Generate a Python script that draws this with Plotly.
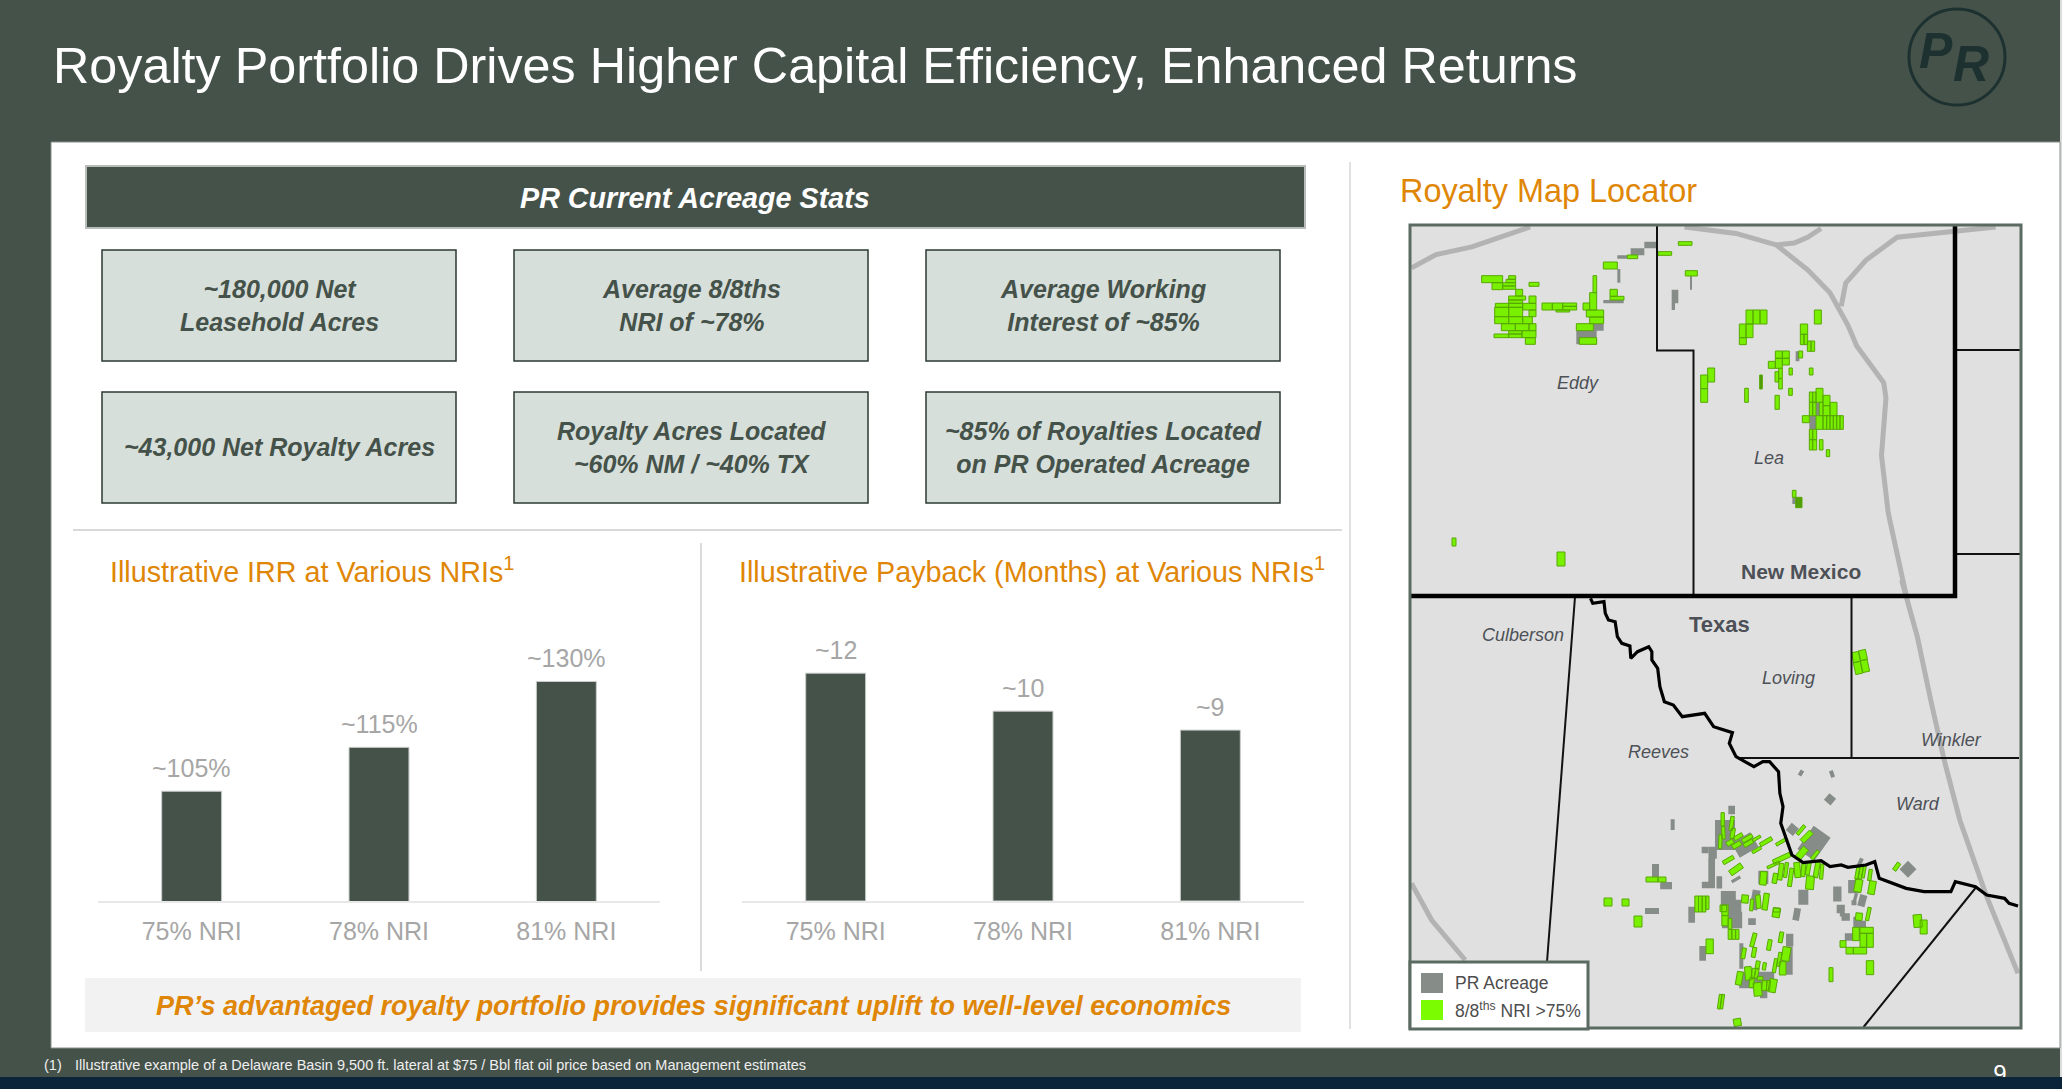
"""Royalty portfolio slide: stat boxes, two bar charts and the acreage map."""

from math import cos, radians, sin

import plotly.graph_objects as go

W, H = 2062, 1089
FONT = "Liberation Sans"
DARK = "#45524a"
ORANGE = "#e08606"
LABEL_GREY = "#a6a6a6"
GREY_FILL = "#868c88"
GREEN_FILL = "#78f000"
GREEN_LINE = "#58a804"

TITLE = "Royalty Portfolio Drives Higher Capital Efficiency, Enhanced Returns"
stats = [
    "~180,000 Net<br>Leasehold Acres",
    "Average 8/8ths<br>NRI of ~78%",
    "Average Working<br>Interest of ~85%",
    "~43,000 Net Royalty Acres",
    "Royalty Acres Located<br>~60% NM / ~40% TX",
    "~85% of Royalties Located<br>on PR Operated Acreage",
]

nri_labels = ["75% NRI", "78% NRI", "81% NRI"]
irr_values = [105, 115, 130]
irr_text = ["~105%", "~115%", "~130%"]
payback_values = [12, 10, 9]
payback_text = ["~12", "~10", "~9"]

eddy_crop = (1460, 225)
eddy_green = [
    (65, 152, 128, 173), (96, 173, 128, 194), (146, 152, 167, 163), (138, 163, 167, 173),
    (128, 173, 167, 183), (128, 183, 167, 193), (167, 193, 188, 213), (207, 172, 237, 184),
    (146, 213, 197, 225), (207, 213, 228, 235), (146, 225, 188, 235), (106, 235, 146, 247),
    (146, 235, 188, 247), (188, 235, 228, 255), (104, 247, 146, 275), (146, 247, 188, 275),
    (207, 255, 228, 275), (104, 275, 146, 296), (146, 275, 188, 296), (188, 275, 217, 296),
    (124, 296, 166, 317), (166, 296, 207, 317), (207, 296, 228, 317), (102, 327, 146, 338),
    (146, 317, 186, 327), (146, 327, 186, 338), (186, 317, 228, 338), (196, 338, 226, 358),
    (246, 234, 277, 255), (277, 234, 308, 255), (308, 234, 350, 244), (308, 244, 350, 255),
    (288, 255, 329, 261), (399, 152, 410, 203), (389, 203, 410, 255), (369, 234, 389, 255),
    (379, 255, 431, 276), (389, 276, 431, 296), (349, 296, 400, 317), (358, 338, 410, 358),
    (430, 111, 472, 132), (450, 193, 472, 214), (450, 214, 492, 225), (502, 90, 533, 101),
    (594, 80, 635, 91), (655, 50, 696, 61), (676, 137, 712, 153),
]
eddy_grey = [
    (472, 91, 502, 101), (512, 70, 553, 91), (553, 50, 590, 70), (472, 132, 481, 173),
    (430, 225, 491, 235), (349, 317, 410, 358), (400, 296, 431, 317), (635, 194, 655, 235),
    (635, 235, 645, 255), (690, 153, 696, 194),
]

lea_crop = (1680, 300)
lea_green = [
    (198, 30, 219, 72), (219, 30, 240, 72), (240, 30, 261, 72), (178, 72, 198, 113),
    (198, 72, 219, 113), (178, 113, 199, 134), (403, 30, 424, 72), (361, 72, 383, 103),
    (361, 103, 372, 134), (372, 103, 383, 134), (382, 123, 393, 154), (393, 123, 404, 154),
    (286, 153, 307, 175), (307, 153, 328, 175), (307, 175, 328, 195), (286, 175, 307, 205),
    (265, 184, 286, 205), (356, 153, 368, 174), (327, 204, 337, 225), (388, 204, 399, 225),
    (285, 215, 296, 246), (296, 205, 307, 235), (296, 236, 307, 267), (62, 225, 83, 266),
    (62, 266, 83, 307), (83, 204, 104, 246), (194, 265, 205, 307), (285, 286, 298, 328),
    (326, 265, 337, 286), (408, 265, 429, 307), (388, 276, 398, 307), (398, 276, 408, 307),
    (429, 286, 450, 317), (450, 307, 471, 347), (388, 307, 398, 347), (398, 307, 408, 347),
    (418, 307, 429, 347), (429, 317, 450, 347), (367, 347, 388, 368), (408, 347, 429, 388),
    (429, 347, 440, 388), (440, 347, 450, 388), (450, 347, 460, 388), (460, 347, 470, 388),
    (470, 347, 480, 388), (480, 347, 490, 388), (388, 388, 398, 419), (398, 388, 410, 419),
    (388, 419, 398, 450), (398, 419, 410, 450), (418, 419, 429, 450), (439, 449, 449, 470),
    (337, 571, 348, 592),
]
lea_dark = [(239, 225, 247, 267), (347, 592, 356, 623), (356, 592, 366, 623)]
lea_grey = [(347, 154, 358, 184), (388, 347, 408, 388), (408, 307, 418, 347), (337, 592, 347, 612)]

# plain map pixels, outliers around the clusters
outlier_green = [
    (1452, 538, 1456, 546), (1557, 552, 1565, 566), (1604, 898, 1612, 906), (1622, 899, 1629, 906),
    (1634, 916, 1642, 927), (1646, 877, 1658, 882), (1658, 877, 1666, 882),
]
outlier_grey = [(1645, 908, 1659, 914), (1652, 864, 1659, 877), (1661, 882, 1672, 889)]

# tilted parcels: centre x, centre y, width, height, clockwise degrees
reeves_north_crop = (1660, 790)
reeves_north_green = [
    (188, 88, 10, 40, 0), (190, 128, 10, 38, -2), (181, 155, 10, 42, 3), (215, 100, 11, 42, 8),
    (218, 130, 12, 30, 10), (210, 158, 22, 14, -30), (230, 165, 28, 14, -30), (235, 140, 28, 12, -30),
    (262, 145, 34, 12, -30), (265, 160, 30, 12, -30), (290, 145, 26, 8, -30), (290, 180, 30, 9, -30),
    (318, 155, 40, 12, -30), (365, 155, 38, 9, -30), (205, 210, 36, 12, -30), (228, 238, 42, 18, -35),
    (423, 120, 34, 10, -50), (440, 140, 40, 16, -45), (425, 190, 40, 20, -50), (465, 195, 32, 10, -50),
    (365, 205, 56, 14, -25), (340, 225, 40, 8, -25), (345, 265, 14, 30, 10), (362, 245, 14, 50, 8),
    (378, 240, 10, 45, 8), (392, 262, 12, 55, 8), (412, 240, 18, 45, -5), (430, 240, 12, 40, 5),
    (445, 235, 12, 40, 10), (470, 240, 14, 46, 10), (485, 245, 10, 45, 5), (450, 278, 24, 40, 5),
    (310, 265, 20, 40, 5), (317, 335, 16, 50, 8), (295, 335, 14, 40, -5), (275, 345, 10, 35, 5),
    (255, 327, 20, 24, 5), (190, 355, 20, 20, 0), (350, 360, 20, 12, 0), (110, 342, 11, 48, 0),
    (121, 342, 11, 48, 0), (132, 342, 11, 48, 0), (142, 338, 10, 40, 0),
]
reeves_north_grey = [
    (195, 135, 60, 90, 0), (215, 60, 20, 26, 0), (255, 165, 65, 50, -30), (135, 180, 20, 20, 0),
    (158, 188, 25, 36, 0), (155, 250, 20, 90, 0), (138, 285, 25, 20, 0), (178, 277, 17, 37, 0),
    (38, 104, 12, 32, 0), (510, 28, 26, 26, 40), (18, 288, 35, 19, 0), (397, 118, 28, 28, 40),
    (462, 160, 62, 85, 35), (228, 268, 30, 10, -30), (205, 332, 45, 58, 0), (310, 262, 30, 40, 0),
    (285, 330, 24, 60, 10), (532, 312, 25, 45, 0), (430, 322, 30, 45, 0), (582, 290, 35, 40, 0),
]

reeves_south_crop = (1660, 900)
reeves_south_green = [
    (280, 120, 12, 42, 15), (251, 160, 12, 32, 10), (282, 157, 12, 30, 10), (328, 135, 12, 32, 10),
    (363, 112, 12, 32, 10), (378, 162, 24, 42, 10), (368, 205, 20, 40, 0), (358, 178, 10, 42, 10),
    (345, 197, 10, 42, 10), (293, 195, 12, 24, 10), (313, 199, 10, 22, 10), (238, 235, 18, 40, 10),
    (265, 220, 20, 40, -5), (280, 220, 10, 30, 10), (290, 220, 10, 30, 10), (275, 248, 14, 30, 5),
    (293, 268, 24, 40, -5), (300, 235, 18, 10, 0), (313, 257, 14, 30, 5), (325, 257, 10, 30, 5),
    (338, 257, 22, 40, 10), (513, 224, 12, 42, 0), (179, 305, 8, 44, 8), (187, 305, 8, 44, 8),
    (232, 367, 22, 22, -10), (349, 38, 22, 28, 10), (195, 31, 19, 32, 0), (195, 62, 19, 31, 0),
    (210, 72, 11, 32, 0), (210, 103, 11, 30, 0), (221, 103, 11, 30, 0), (232, 103, 10, 30, 0),
    (149, 139, 22, 44, 0),
]
reeves_south_grey = [
    (95, 44, 20, 48, 0), (128, 160, 20, 44, 0), (215, 42, 58, 85, 0), (238, 60, 17, 50, 0),
    (276, 65, 23, 20, 0), (389, 120, 22, 38, 0), (388, 182, 20, 85, 0), (244, 168, 12, 76, 0),
    (290, 240, 105, 50, 0), (311, 280, 22, 30, 0), (410, 43, 20, 37, 10), (540, 27, 20, 25, 0),
    (557, 51, 25, 22, 0), (582, 8, 15, 15, 0), (567, 111, 25, 22, 0), (590, 70, 20, 40, 0),
]

ward_crop = (1840, 830)
ward_green = [
    (52, 130, 10, 36, 10), (62, 128, 10, 38, 10), (72, 125, 8, 38, 10), (90, 135, 10, 34, 8),
    (55, 167, 22, 38, 10), (96, 173, 20, 40, 10), (170, 110, 12, 26, 35), (85, 252, 10, 40, 12),
    (57, 260, 20, 22, 5), (48, 312, 20, 40, 0), (80, 301, 40, 18, 0), (70, 331, 20, 42, 0),
    (90, 331, 20, 42, 0), (9, 342, 18, 20, 0), (29, 362, 22, 20, 0), (60, 362, 40, 20, 0),
    (90, 413, 22, 42, 0), (233, 273, 25, 38, -5), (251, 291, 21, 42, 0),
]
ward_grey = [
    (204, 118, 36, 36, 45), (60, 98, 12, 28, 25), (35, 172, 20, 35, 0), (45, 207, 10, 35, 15),
    (67, 212, 22, 35, 15), (7, 242, 15, 35, 0), (21, 260, 13, 20, 0), (59, 282, 38, 20, 0),
    (30, 322, 20, 20, 0),
]

# these two are in map pixels
winkler_green = [
    (1856, 657, 7, 10, -12), (1863, 655, 7, 10, -12), (1858, 668, 7, 12, -12), (1865, 666, 7, 12, -12),
]
ward_north_grey = [(1801, 773, 4, 6, 30), (1832, 774, 4, 7, -20)]

# highways, county lines and the river, map pixels in the same crops
road_north_west = [(115, 700), (170, 665), (250, 645), (300, 625), (380, 593)]
road_main_north = [
    (725, 593), (840, 610), (930, 640), (1000, 705), (1050, 765), (1090, 850), (1110, 905), (1170, 1000),
    (1175, 1040), (1165, 1190), (1180, 1340), (1220, 1555),
]
road_spur = [(930, 640), (970, 635), (1000, 620), (1030, 597)]
road_north_east = [(1075, 800), (1085, 740), (1130, 680), (1200, 620), (1340, 603), (1420, 593)]
road_main_south = [(1210, 0), (1245, 170), (1275, 360), (1305, 540), (1340, 720), (1400, 950), (1470, 1180)]
road_culberson = [(115, 910), (160, 1020), (235, 1140)]
pecos_river = [
    (515, 55), (520, 70), (545, 65), (548, 100), (555, 120), (570, 125), (575, 170), (585, 190), (603, 198),
    (605, 235), (620, 215), (645, 200), (652, 215), (652, 240), (665, 265), (670, 320), (680, 365), (700, 375),
    (720, 410), (770, 400), (790, 440), (832, 458), (825, 490), (840, 530), (880, 560), (900, 545), (915, 545),
    (935, 575), (938, 640), (945, 680), (940, 730), (955, 790), (965, 825), (990, 848), (1030, 842), (1050, 860),
    (1075, 855), (1090, 862), (1130, 855), (1150, 845), (1160, 895), (1220, 925), (1260, 935), (1320, 935),
    (1330, 905), (1375, 920), (1400, 945), (1440, 955), (1450, 970), (1470, 978),
]
thin_lines = [
    [(1657, 225), (1657, 350.5), (1693.5, 350.5), (1693.5, 596)],
    [(1957, 350), (2021, 350)],
    [(1957, 554), (2021, 554)],
    [(1575, 597), (1547, 962)],
    [(1851.5, 597), (1851.5, 758)],
    [(1740, 758), (2019, 758)],
    [(1975.5, 888), (1863.6, 1027)],
]
state_line = [(1409, 596), (1955, 596), (1955, 225)]

map_labels = [
    ("<i>Eddy</i>", 1578, 383, 18), ("<i>Lea</i>", 1769, 458, 18), ("<b>New Mexico</b>", 1801, 571, 21),
    ("<i>Culberson</i>", 1523, 635, 18), ("<b>Texas</b>", 1719, 624, 22), ("<i>Loving</i>", 1788, 678, 18),
    ("<i>Reeves</i>", 1658, 752, 18), ("<i>Winkler</i>", 1951, 740, 18), ("<i>Ward</i>", 1918, 804, 18),
]


def px(x):
    return x / W


def py(y):
    return 1 - y / H


def rect(x0, y0, x1, y1, fill, line=None, width=0, layer="below"):
    return dict(
        type="rect", xref="paper", yref="paper", x0=px(x0), x1=px(x1), y0=py(y0), y1=py(y1),
        fillcolor=fill, line=dict(color=line or fill, width=width), layer=layer,
    )


def text(label, x, y, size, color, xanchor="center"):
    return dict(
        text=label, xref="paper", yref="paper", x=px(x), y=py(y), xanchor=xanchor, yanchor="middle",
        showarrow=False, font=dict(family=FONT, size=size, color=color),
    )


def straight(rects, crop=(0, 0), scale=3.0):
    ox, oy = crop
    return [
        [
            (ox + a / scale, oy + b / scale), (ox + c / scale, oy + b / scale),
            (ox + c / scale, oy + d / scale), (ox + a / scale, oy + d / scale),
        ]
        for a, b, c, d in rects
    ]


def tilted(parcels, crop=(0, 0), scale=3.0):
    ox, oy = crop
    polys = []
    for cx, cy, w, h, deg in parcels:
        c, s = cos(radians(deg)), sin(radians(deg))
        corners = [(-w / 2, -h / 2), (w / 2, -h / 2), (w / 2, h / 2), (-w / 2, h / 2)]
        polys.append([(ox + (cx + dx * c - dy * s) / scale, oy + (cy + dx * s + dy * c) / scale) for dx, dy in corners])
    return polys


def poly_trace(polys, fill, line=None, width=0):
    xs, ys = [], []
    for poly in polys:
        xs += [p[0] for p in poly] + [poly[0][0], None]
        ys += [p[1] for p in poly] + [poly[0][1], None]
    return go.Scatter(
        x=xs, y=ys, mode="lines", fill="toself", fillcolor=fill,
        line=dict(color=line or fill, width=width), xaxis="x3", yaxis="y3", hoverinfo="skip", showlegend=False,
    )


def line_trace(points, color, width, sx=1, sy=1, ox=0, oy=0):
    return go.Scatter(
        x=[ox + p[0] / sx for p in points], y=[oy + p[1] / sy for p in points], mode="lines",
        line=dict(color=color, width=width), xaxis="x3", yaxis="y3", hoverinfo="skip", showlegend=False,
    )


def bar_trace(values, xaxis, yaxis):
    return go.Bar(
        x=nri_labels, y=values, width=0.32, marker=dict(color=DARK, line=dict(color="#c9cdca", width=1)),
        xaxis=xaxis, yaxis=yaxis, showlegend=False, hoverinfo="skip",
    )


def value_labels(values, labels, xref, yref):
    return [
        dict(
            text=label, x=cat, y=value, xref=xref, yref=yref, yanchor="bottom", yshift=7, showarrow=False,
            font=dict(family=FONT, size=25, color=LABEL_GREY),
        )
        for cat, value, label in zip(nri_labels, values, labels)
    ]


fig = go.Figure()
fig.add_trace(bar_trace(irr_values, "x", "y"))
fig.add_trace(bar_trace(payback_values, "x2", "y2"))

# zoom 3 has its own x/y stretch, zoom 4 is 3x down from y=580
for road in (road_north_west, road_main_north, road_spur, road_north_east):
    fig.add_trace(line_trace(road, "#b3b3b3", 5, 2.234, 2.613, 1360, 0))
for road in (road_main_south, road_culberson):
    fig.add_trace(line_trace(road, "#b3b3b3", 5, 2.234, 3, 1360, 580))

grey_polys = (
    straight(eddy_grey, eddy_crop) + straight(lea_grey, lea_crop) + straight(outlier_grey, scale=1)
    + tilted(reeves_north_grey, reeves_north_crop) + tilted(reeves_south_grey, reeves_south_crop)
    + tilted(ward_grey, ward_crop) + tilted(ward_north_grey, scale=1)
)
green_polys = (
    straight(eddy_green, eddy_crop) + straight(lea_green, lea_crop) + straight(outlier_green, scale=1)
    + tilted(reeves_north_green, reeves_north_crop) + tilted(reeves_south_green, reeves_south_crop)
    + tilted(ward_green, ward_crop) + tilted(winkler_green, scale=1)
)
fig.add_trace(poly_trace(grey_polys, GREY_FILL))
fig.add_trace(poly_trace(green_polys, GREEN_FILL, GREEN_LINE, 1))
fig.add_trace(poly_trace(straight(lea_dark, lea_crop), "#4f9e0a", GREEN_LINE, 1))

for segment in thin_lines:
    fig.add_trace(line_trace(segment, "#111111", 2))
fig.add_trace(line_trace(state_line, "#000000", 4.5))
fig.add_trace(line_trace(pecos_river, "#000000", 3.2, 2.234, 3, 1360, 580))

# page number is cut by the navy strip, so it lives in its own small clipped axis
fig.add_trace(go.Scatter(
    x=[2000], y=[1076], text=["9"], mode="text", cliponaxis=True, xaxis="x4", yaxis="y4",
    textfont=dict(family=FONT, size=24, color="#ffffff"), hoverinfo="skip", showlegend=False,
))

shapes = [
    rect(2060, 0, W, 1077, "#dcdcdc"),
    rect(51, 142, 2060, 1048, "#ffffff", "#8a918c", 1),
    rect(0, 1077, W, H, "#0b2439"),
    rect(86, 166, 1305, 228, DARK, "#b8bdb9", 2),
    rect(85, 978, 1301, 1032, "#f2f2f2"),
    rect(73, 529, 1342, 531, "#d9d9d9"),
    rect(700.5, 543, 701.5, 971, "#b5b5b5"),
    rect(1349.5, 162, 1350.5, 1029, "#c4c4c4"),
    rect(1410, 225, 2021, 1028, "#e0e0e0"),
    rect(1410, 225, 2021, 1028, "rgba(0,0,0,0)", "#5b6b61", 3, "above"),
    rect(1410, 962, 1588, 1029, "#ffffff", "#5b6b61", 3, "above"),
    rect(1421, 973, 1443, 993, GREY_FILL, layer="above"),
    rect(1421, 1000, 1443, 1020, "#7cfc00", layer="above"),
    dict(
        type="circle", xref="paper", yref="paper", x0=px(1909), x1=px(2005), y0=py(9), y1=py(105),
        line=dict(color="#1d3230", width=3), layer="below",
    ),
]
box_columns = [(102, 456), (514, 868), (926, 1280)]
box_rows = [(250, 361), (392, 503)]
annotations = [
    text(TITLE, 51, 65, 50.3, "#ffffff", "left"),
    text("<b><i>P</i></b>", 1936, 51, 50, "#1d3230"),
    text("<b><i>R</i></b>", 1971, 64, 50, "#1d3230"),
    text("<b><i>PR Current Acreage Stats</i></b>", 695, 198, 28.7, "#ffffff"),
    text("Illustrative IRR at Various NRIs<sup>1</sup>", 108, 570, 28.7, ORANGE, "left"),
    text("Illustrative Payback (Months) at Various NRIs<sup>1</sup>", 737, 570, 28.7, ORANGE, "left"),
    text("Royalty Map Locator", 1398, 191, 32.4, ORANGE, "left"),
    text("<b><i>PR\u2019s advantaged royalty portfolio provides significant uplift to well-level economics</i></b>", 693, 1006, 27, ORANGE),
    text("(1)", 42, 1065, 14.5, "#eeeeee", "left"),
    text("Illustrative example of a Delaware Basin 9,500 ft. lateral at $75 / Bbl flat oil price based on Management estimates", 73, 1065, 14.5, "#eeeeee", "left"),
    text("PR Acreage", 1453, 983, 17.5, "#4d4d4d", "left"),
    text("8/8<sup>ths</sup> NRI >75%", 1453, 1010, 17.5, "#4d4d4d", "left"),
]
annotations += value_labels(irr_values, irr_text, "x", "y")
annotations += value_labels(payback_values, payback_text, "x2", "y2")
for i, label in enumerate(stats):
    x0, x1 = box_columns[i % 3]
    y0, y1 = box_rows[i // 3]
    shapes.append(rect(x0, y0, x1, y1, "#d7dfda", "#2c3a33", 1.5))
    annotations.append(text(f"<b><i>{label}</i></b>", (x0 + x1) / 2, (y0 + y1) / 2, 25, DARK))
for label, x, y, size in map_labels:
    annotations.append(text(label, x, y, size, "#4d5157"))

cat_axis = dict(
    showgrid=False, zeroline=False, ticks="", showline=True, linecolor="#e8e8e8", linewidth=2, ticklabelstandoff=7,
    tickfont=dict(family=FONT, size=25, color=LABEL_GREY), fixedrange=True,
)
hidden = dict(visible=False, fixedrange=True)
fig.update_layout(
    width=W, height=H, margin=dict(l=0, r=0, t=0, b=0),
    paper_bgcolor=DARK, plot_bgcolor="rgba(0,0,0,0)", shapes=shapes, annotations=annotations, bargap=0.68,
    xaxis=dict(domain=[px(98), px(660)], anchor="y", **cat_axis),
    yaxis=dict(domain=[py(901), py(620)], range=[80, 144], anchor="x", **hidden),
    xaxis2=dict(domain=[px(742), px(1304)], anchor="y2", **cat_axis),
    yaxis2=dict(domain=[py(901), py(620)], range=[0, 14.8], anchor="x2", **hidden),
    xaxis3=dict(domain=[px(1409), px(2021)], range=[1409, 2021], anchor="y3", **hidden),
    yaxis3=dict(domain=[py(1028), py(225)], range=[1028, 225], anchor="x3", **hidden),
    xaxis4=dict(domain=[px(1985), px(2015)], range=[1985, 2015], anchor="y4", **hidden),
    yaxis4=dict(domain=[py(1077), py(1050)], range=[1077, 1050], anchor="x4", **hidden),
)

fig.write_html("out.html", config=dict(displayModeBar=False), post_script="document.body.style.margin='0';")
